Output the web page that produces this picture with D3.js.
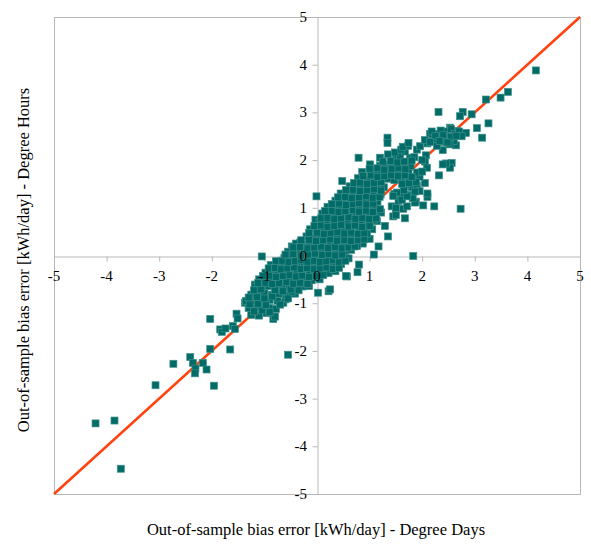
<!DOCTYPE html>
<html>
<head>
<meta charset="utf-8">
<script src="https://cdn.jsdelivr.net/npm/d3@7"></script>
<style>
  body { margin: 0; background: #fff; }
</style>
</head>
<body>
<div id="chart"></div>
<script>
var width = 591,
  height = 553;

var ticks = [-5, -4, -3, -2, -1, 0, 1, 2, 3, 4, 5];
var xTitle = "Out-of-sample bias error [kWh/day] - Degree Days";
var yTitle = "Out-of-sample bias error [kWh/day] - Degree Hours";

// y = x reference line
var refLine = [[-5, -5], [5, 5]];

// scattered points away from the main band [degree days, degree hours]
var outliers = [
  [-4.21, -3.52], [-3.85, -3.46], [-3.73, -4.47], [-3.07, -2.72], [-2.73, -2.27],
  [-2.41, -2.13], [-2.36, -2.25], [-2.31, -2.37], [-2.32, -2.47], [-2.17, -2.25],
  [-2.10, -2.39], [-1.96, -2.73], [-2.03, -1.96], [-2.03, -1.33], [-1.65, -1.97],
  [-1.84, -1.55], [-1.81, -1.60], [-1.74, -1.53], [-1.60, -1.48], [-1.56, -1.54],
  [-1.53, -1.22], [-1.51, -1.32], [-1.37, -0.99], [-1.23, -1.24], [-0.55, -2.08],
  [-0.83, -1.33], [-0.96, -1.20], [-1.08, -1.10], [-0.64, -0.99], [-0.42, -0.80],
  [0.02, -0.78], [0.22, -0.75], [-1.15, -0.92], [-1.18, -0.61], [-1.05, -0.02],
  [-0.74, -0.19], [-0.27, -0.65], [0.57, -0.44], [0.77, -0.35], [0.80, -0.19],
  [4.16, 3.88], [3.63, 3.43], [3.49, 3.31], [3.21, 3.27], [3.26, 2.77],
  [3.14, 2.47], [3.04, 2.67], [2.94, 2.96], [2.77, 3.01], [2.72, 2.92],
  [2.31, 3.01], [2.73, 0.98], [2.83, 2.57], [2.66, 2.61], [2.53, 2.68],
  [2.64, 2.31], [2.56, 1.94], [2.53, 1.84], [2.45, 1.93], [2.39, 1.91],
  [2.39, 2.21], [2.32, 1.68], [2.23, 1.03], [2.02, 1.05], [2.10, 1.23],
  [2.09, 1.84], [2.05, 1.52], [2.07, 2.10], [1.88, 1.13], [1.83, -0.01],
  [1.67, 0.78], [1.64, 0.98], [1.35, 0.40], [1.34, 2.47], [1.34, 2.36],
  [0.79, 2.05], [1.01, 1.91], [1.17, 0.19], [1.08, 0.02], [0.55, -0.43],
  [0.48, 1.56], [0.48, 1.17], [-0.01, 1.24], [-0.03, 0.75], [0.87, 0.25],
  [1.14, 0.72], [1.29, 0.62], [1.05, 0.55], [1.00, 0.35], [1.71, 1.03],
  [1.86, 1.11], [1.42, 1.03], [1.45, 0.82], [-0.46, 0.12], [-0.48, 0.19],
  [-0.32, 0.27], [0.25, -0.71]
];

// dense central band [degree days, degree hours]
var core = [
  [-1.25, -1.24], [-1.1, -1.26], [-0.96, -1.2], [-0.8, -1.28],
  [-1.3, -1.1], [-1.15, -1.08], [-1.0, -1.05], [-0.9, -1.1], [-0.78, -1.12],
  [-1.35, -0.95], [-1.2, -0.95], [-1.05, -0.97], [-0.9, -0.93], [-0.75, -0.95], [-0.6, -0.92],
  [-1.25, -0.82], [-1.12, -0.8], [-1.0, -0.78], [-0.86, -0.82], [-0.72, -0.8], [-0.58, -0.83], [-0.48, -0.76],
  [-1.18, -0.66], [-1.05, -0.66], [-0.92, -0.64], [-0.8, -0.67], [-0.66, -0.63], [-0.53, -0.66], [-0.4, -0.62], [-0.15, -0.64],
  [-1.1, -0.5], [-0.97, -0.52], [-0.85, -0.48], [-0.72, -0.5], [-0.6, -0.53], [-0.47, -0.49], [-0.35, -0.51], [-0.22, -0.48], [-0.1, -0.52], [0.05, -0.5],
  [-0.98, -0.36], [-0.86, -0.33], [-0.74, -0.37], [-0.62, -0.34], [-0.5, -0.36], [-0.38, -0.33], [-0.26, -0.37], [-0.14, -0.34], [-0.02, -0.36], [0.1, -0.33], [0.22, -0.37], [0.35, -0.33],
  [-0.88, -0.2], [-0.62, -0.22], [-0.5, -0.18], [-0.38, -0.21], [-0.25, -0.19], [-0.12, -0.22], [0.0, -0.18], [0.12, -0.21], [0.24, -0.19], [0.36, -0.22], [0.46, -0.18],
  [-0.62, -0.05], [-0.5, -0.03], [-0.4, -0.07], [-0.31, -0.04], [-0.18, -0.06], [-0.05, -0.03], [0.08, -0.07], [0.2, -0.04], [0.32, -0.06], [0.45, -0.03], [0.6, -0.06],
  [-0.55, 0.08], [-0.37, 0.12], [-0.24, 0.08], [-0.11, 0.11], [0.02, 0.09], [0.15, 0.12], [0.28, 0.08], [0.41, 0.11], [0.54, 0.09], [0.65, 0.12],
  [-0.4, 0.25], [-0.27, 0.23], [-0.14, 0.27], [-0.01, 0.24], [0.12, 0.26], [0.25, 0.23], [0.38, 0.27], [0.51, 0.24], [0.64, 0.26], [0.76, 0.2],
  [-0.2, 0.4], [-0.07, 0.38], [0.06, 0.42], [0.19, 0.39], [0.32, 0.41], [0.45, 0.38], [0.58, 0.42], [0.71, 0.39], [0.84, 0.41], [0.95, 0.45],
  [-0.13, 0.55], [0.0, 0.53], [0.13, 0.57], [0.26, 0.54], [0.39, 0.56], [0.52, 0.53], [0.65, 0.57], [0.8, 0.54], [0.93, 0.6],
  [0.05, 0.7], [0.18, 0.68], [0.31, 0.72], [0.44, 0.69], [0.57, 0.71], [0.7, 0.68], [0.83, 0.72], [0.96, 0.69], [1.08, 0.75],
  [0.1, 0.88], [0.22, 0.85], [0.35, 0.83], [0.48, 0.87], [0.61, 0.84], [0.74, 0.86], [0.87, 0.83], [1.0, 0.87], [1.12, 0.84], [1.22, 0.9],
  [0.2, 1.02], [0.33, 1.0], [0.46, 0.98], [0.59, 1.02], [0.72, 0.99], [0.85, 1.01], [0.98, 0.98], [1.1, 1.02], [1.2, 0.97], [1.5, 1.0],
  [0.35, 1.15], [0.5, 1.15], [0.63, 1.13], [0.76, 1.17], [0.89, 1.14], [1.02, 1.16], [1.15, 1.13], [1.55, 1.14], [1.61, 1.2],
  [0.45, 1.3], [0.58, 1.3], [0.7, 1.28], [0.82, 1.32], [0.95, 1.29], [1.08, 1.31], [1.21, 1.28], [1.47, 1.29], [1.62, 1.31], [1.75, 1.27],
  [0.62, 1.45], [0.75, 1.43], [0.88, 1.47], [1.01, 1.44], [1.14, 1.46], [1.27, 1.43], [1.66, 1.46], [1.8, 1.43], [1.9, 1.47],
  [0.78, 1.62], [0.95, 1.58], [1.08, 1.62], [1.21, 1.59], [1.34, 1.61], [1.47, 1.58], [1.6, 1.62], [1.73, 1.59], [1.86, 1.61], [1.95, 1.65],
  [0.86, 1.75], [1.05, 1.8], [1.09, 1.73], [1.22, 1.77], [1.35, 1.74], [1.48, 1.76], [1.61, 1.73], [1.74, 1.77], [1.9, 1.74], [2.0, 1.76],
  [1.2, 1.88], [1.3, 1.9], [1.42, 1.92], [1.55, 1.89], [1.66, 1.91], [1.78, 1.88], [2.05, 1.97],
  [1.2, 2.05], [1.35, 2.12], [1.5, 2.03], [1.58, 2.08], [1.77, 2.05], [1.85, 2.06], [2.0, 2.0],
  [1.48, 2.16], [1.67, 2.18], [1.6, 2.22], [1.9, 2.22], [1.96, 2.29], [1.73, 2.3], [1.63, 2.28], [1.74, 2.36],
  [2.1, 2.35], [2.2, 2.45], [2.3, 2.55], [2.15, 2.55], [2.25, 2.4], [2.38, 2.5], [2.45, 2.6], [2.55, 2.65],
  [2.62, 2.55], [2.5, 2.45], [2.4, 2.38], [2.7, 2.6], [2.05, 2.42], [2.35, 2.62], [2.6, 2.4], [2.52, 2.33],
  [2.28, 2.3], [2.75, 2.5], [2.18, 2.6], [2.45, 2.48],
  [2.1, 1.3], [1.95, 1.35], [1.82, 1.2], [1.52, 1.32], [1.61, 1.17], [1.71, 1.24], [1.69, 1.49],
  [1.8, 1.56], [1.86, 1.34], [1.5, 0.85], [1.45, 1.25]
];

// extra points lying between the rows above, where the band is solid
var coreFill = [
  [-1.2, -1.17], [-1.04, -1.15], [-0.9, -1.19],
  [-1.28, -1.02], [-1.12, -1.01], [-0.97, -1.04], [-0.7, -1.03],
  [-1.3, -0.88], [-1.14, -0.87], [-1.0, -0.9], [-0.85, -0.86], [-0.55, -0.9],
  [-1.2, -0.73], [-1.07, -0.71], [-0.8, -0.72], [-0.65, -0.75], [-0.5, -0.71], [-0.35, -0.73],
  [-1.12, -0.58], [-0.98, -0.57], [-0.85, -0.6], [-0.72, -0.58], [-0.58, -0.56], [-0.45, -0.59], [-0.32, -0.57], [-0.18, -0.6],
  [-1.03, -0.43], [-0.9, -0.42], [-0.78, -0.45], [-0.65, -0.43], [-0.52, -0.41], [-0.4, -0.44], [-0.28, -0.42], [-0.15, -0.45], [-0.02, -0.43], [0.12, -0.41],
  [-0.92, -0.27], [-0.8, -0.26], [-0.68, -0.29], [-0.56, -0.27], [-0.44, -0.25], [-0.31, -0.28], [-0.19, -0.26], [-0.06, -0.29], [0.06, -0.27], [0.18, -0.25], [0.3, -0.28], [0.42, -0.26],
  [-0.78, -0.12], [-0.66, -0.11], [-0.54, -0.14], [-0.42, -0.12], [-0.3, -0.1], [-0.18, -0.13], [-0.06, -0.11], [0.06, -0.14], [0.18, -0.12], [0.3, -0.1], [0.42, -0.13], [0.54, -0.11],
  [-0.6, 0.02], [-0.45, 0.03], [-0.3, 0.0], [-0.17, 0.02], [-0.04, 0.04], [0.1, 0.01], [0.22, 0.03], [0.35, 0.0], [0.48, 0.02],
  [-0.45, 0.17], [-0.32, 0.18], [-0.18, 0.15], [-0.05, 0.17], [0.08, 0.19], [0.21, 0.16], [0.34, 0.18], [0.47, 0.15], [0.6, 0.17], [0.72, 0.19],
  [-0.3, 0.32], [-0.15, 0.33], [-0.02, 0.3], [0.12, 0.32], [0.25, 0.34], [0.38, 0.31], [0.52, 0.33], [0.65, 0.3], [0.78, 0.32], [0.9, 0.34],
  [-0.15, 0.47], [0.0, 0.48], [0.13, 0.45], [0.26, 0.47], [0.39, 0.49], [0.52, 0.46], [0.65, 0.48], [0.78, 0.45], [0.9, 0.47],
  [-0.05, 0.62], [0.08, 0.63], [0.2, 0.6], [0.33, 0.62], [0.46, 0.64], [0.6, 0.61], [0.72, 0.63], [0.86, 0.6], [1.0, 0.62],
  [0.08, 0.78], [0.2, 0.79], [0.33, 0.76], [0.46, 0.78], [0.6, 0.8], [0.73, 0.77], [0.86, 0.79], [0.99, 0.76], [1.12, 0.78],
  [0.15, 0.93], [0.28, 0.94], [0.41, 0.91], [0.54, 0.93], [0.68, 0.95], [0.8, 0.92], [0.93, 0.94], [1.06, 0.91],
  [0.28, 1.08], [0.42, 1.09], [0.55, 1.06], [0.68, 1.08], [0.8, 1.1], [0.94, 1.07], [1.07, 1.09],
  [0.4, 1.22], [0.53, 1.23], [0.66, 1.2], [0.8, 1.22], [0.93, 1.24], [1.06, 1.21], [1.19, 1.23],
  [0.55, 1.37], [0.68, 1.38], [0.82, 1.35], [0.95, 1.37], [1.08, 1.39], [1.22, 1.36], [1.65, 1.37],
  [0.7, 1.52], [0.82, 1.53], [0.95, 1.5], [1.08, 1.52], [1.22, 1.54], [1.62, 1.5], [1.75, 1.52], [1.88, 1.54],
  [0.88, 1.67], [1.02, 1.68], [1.15, 1.65], [1.28, 1.67], [1.41, 1.69], [1.54, 1.66], [1.67, 1.68], [1.8, 1.65],
  [1.0, 1.82], [1.15, 1.83], [1.28, 1.8], [1.42, 1.82], [1.55, 1.84], [1.68, 1.81],
  [1.25, 1.97], [1.4, 1.98], [1.53, 1.95], [1.66, 1.97], [1.8, 1.99],
  [2.25, 2.5], [2.4, 2.52], [2.55, 2.49], [2.65, 2.51], [2.15, 2.38], [2.33, 2.4], [2.48, 2.37]
];

var margin = { left: 54, right: 11, top: 17, bottom: 59 };

var x = d3.scaleLinear().domain([-5, 5]).range([margin.left, width - margin.right]);
var y = d3.scaleLinear().domain([-5, 5]).range([height - margin.bottom, margin.top]);

var svg = d3.select("#chart").append("svg")
  .attr("width", width)
  .attr("height", height);

var grey = "#b8b8b8";
var serif = "'Liberation Serif', 'DejaVu Serif', serif";

// frame
svg.append("rect")
  .attr("x", x(-5) + 0.5)
  .attr("y", y(5) + 0.5)
  .attr("width", x(5) - x(-5))
  .attr("height", y(-5) - y(5))
  .attr("fill", "none")
  .attr("stroke", grey);

// axes through the origin
svg.append("g")
  .attr("transform", "translate(0," + (Math.round(y(0)) + 0.5) + ")")
  .call(d3.axisBottom(x).tickValues(ticks).tickSize(5).tickFormat(""));
svg.append("g")
  .attr("transform", "translate(" + (Math.round(x(0)) + 0.5) + ",0)")
  .call(d3.axisLeft(y).tickValues(ticks).tickSize(5).tickFormat(""));
svg.selectAll(".domain, .tick line").attr("stroke", grey);

// reference line
svg.append("path")
  .datum(refLine)
  .attr("d", d3.line().x(function (d) { return x(d[0]); }).y(function (d) { return y(d[1]); }))
  .attr("stroke", "#ff420e")
  .attr("stroke-width", 2.6)
  .attr("fill", "none");

// points
var s = 7;
svg.append("g").selectAll("rect")
  .data(outliers.concat(core, coreFill))
  .enter()
  .append("rect")
  .attr("x", function (d) { return x(d[0]) - s / 2; })
  .attr("y", function (d) { return y(d[1]) - s / 2; })
  .attr("width", s)
  .attr("height", s)
  .attr("fill", "#006b67")
  .attr("stroke", "#3f8f8b")
  .attr("stroke-width", 0.7);

// tick labels (on top of the points)
svg.append("g").selectAll("text")
  .data(ticks)
  .enter()
  .append("text")
  .attr("x", function (d) { return x(d); })
  .attr("y", y(0) + 25)
  .attr("text-anchor", "middle")
  .style("font-family", serif)
  .style("font-size", "15px")
  .text(function (d) { return d; });

svg.append("g").selectAll("text")
  .data(ticks)
  .enter()
  .append("text")
  .attr("x", x(0) - 10)
  .attr("y", function (d) { return y(d) + 5; })
  .attr("text-anchor", "end")
  .style("font-family", serif)
  .style("font-size", "15px")
  .text(function (d) { return d; });

// titles
svg.append("text")
  .attr("x", 316)
  .attr("y", 535)
  .attr("text-anchor", "middle")
  .style("font-family", serif)
  .style("font-size", "16.5px")
  .text(xTitle);

svg.append("text")
  .attr("transform", "translate(29,260) rotate(-90)")
  .attr("text-anchor", "middle")
  .style("font-family", serif)
  .style("font-size", "16.5px")
  .text(yTitle);
</script>
</body>
</html>
